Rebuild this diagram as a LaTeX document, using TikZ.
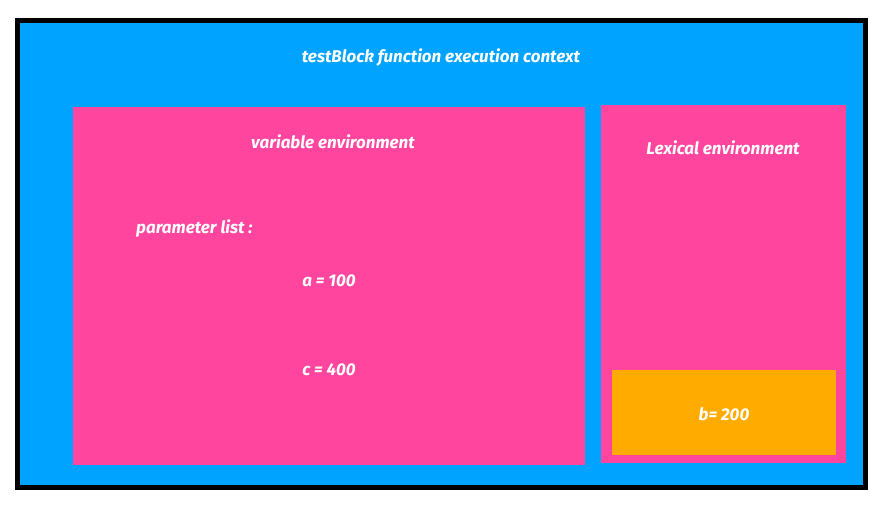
\documentclass[tikz,border=0pt]{standalone}
\usepackage{fontspec}
\setmainfont{Fira Sans}
\definecolor{bg}{HTML}{00A3FF}
\definecolor{pk}{HTML}{FF459E}
\definecolor{og}{HTML}{FFAB00}
\tikzset{
  lbl/.style={text=white,font=\fontsize{17}{20}\selectfont\bfseries\itshape,inner sep=0pt},
  pbox/.style={fill=pk,draw=none}
}
\begin{document}
\begin{tikzpicture}[x=1pt,y=-1pt]
\useasboundingbox (0,0) rectangle (884,508);
\fill[white] (0,0) rectangle (884,508);
\draw[line width=5pt,fill=bg] (17.5,20.5) rectangle (865.5,487.5);
\node[pbox,minimum width=512pt,minimum height=358pt,anchor=north west] (ve) at (73,107) {};
\node[pbox,minimum width=245pt,minimum height=358pt,anchor=north west] (le) at (601,105) {};
\node[fill=og,minimum width=224pt,minimum height=85pt,anchor=north west] (bb) at (612,370) {};
\node[lbl] (title) at (441,58) {testBlock function execution context};
\node[lbl] (vt) at (333,142) {variable environment};
\node[lbl] (lt) at (723,148) {Lexical environment};
\node[lbl,anchor=west] (pl) at (136,229) {parameter list :};
\node[lbl] (a) at (329,281) {a = 100};
\node[lbl] (c) at (329,370) {c = 400};
\node[lbl] (b) at (724,414) {b= 200};
\end{tikzpicture}
\end{document}
